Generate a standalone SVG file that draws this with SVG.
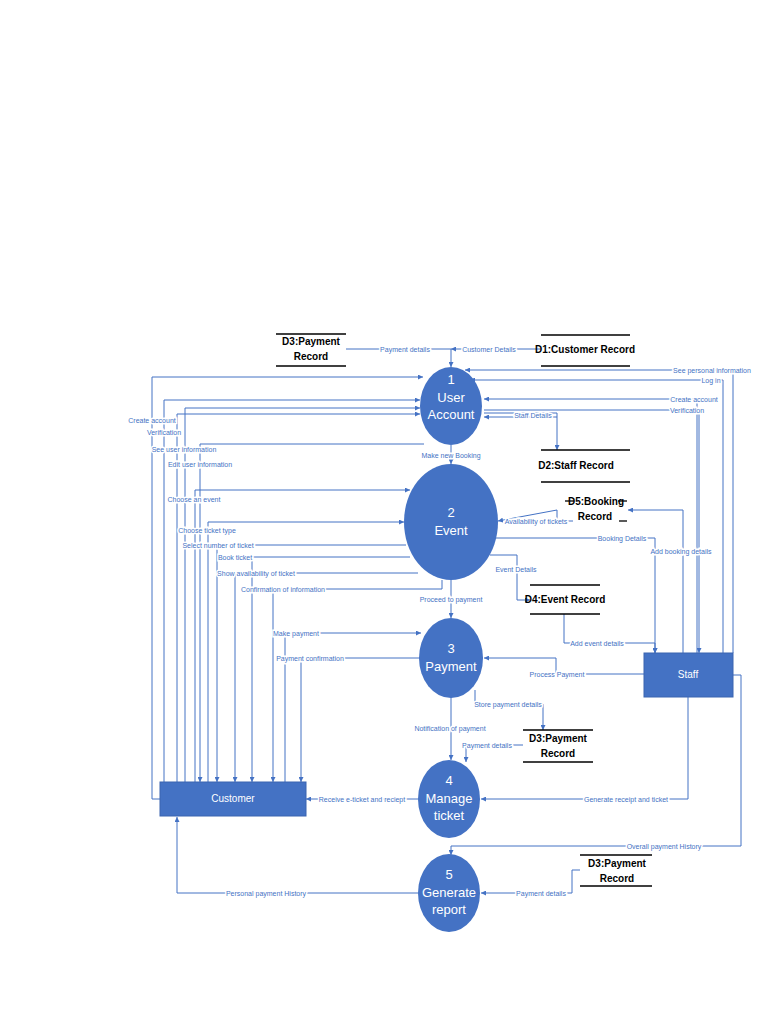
<svg xmlns="http://www.w3.org/2000/svg" width="768" height="1024" viewBox="0 0 768 1024">
<defs>
<marker id="a" viewBox="0 0 6 6" refX="6" refY="3" markerWidth="5" markerHeight="5" orient="auto"><path d="M0,0L6,3L0,6z" fill="#4472C4"/></marker>
<style>
.p{fill:#4472C4}
.pt{fill:#fff;font-family:"Liberation Sans",Arial,sans-serif;font-size:13px;text-anchor:middle}
.c path,.c polyline,.c line{fill:none;stroke:#4472C4;stroke-width:1;marker-end:url(#a)}
.l{fill:#4472C4;font-family:"Liberation Sans",Arial,sans-serif;font-size:7px;text-anchor:middle;stroke:#fff;stroke-width:3;paint-order:stroke}
.s line{stroke:#000;stroke-width:1.3}
.st{fill:#000;font-family:"Liberation Sans",Arial,sans-serif;font-size:10px;font-weight:bold;text-anchor:middle}
</style>
</defs>
<rect width="768" height="1024" fill="#fff"/>
<g class="c">
<polyline points="346,349 451,349 451,367"/>
<polyline points="541,349 451,349"/>
<polyline points="160,799 152,799 152,377 423,377"/>
<polyline points="164,782 164,400 420,400"/>
<polyline points="185,782 185,408 420,408"/>
<polyline points="177,782 177,414 420,414"/>
<polyline points="424,444 200,444 200,782"/>
<polyline points="195,782 195,490 410,490"/>
<polyline points="208,782 208,522 404,522"/>
<polyline points="406,545 217,545 217,782"/>
<polyline points="410,557 252,557 252,782"/>
<polyline points="418,573 235,573 235,782"/>
<polyline points="442,580 442,589 273,589 273,782"/>
<polyline points="285,782 285,633 421,633"/>
<polyline points="420,658 301,658 301,782"/>
<polyline points="733,653 733,370 465,370"/>
<polyline points="723,653 723,380 470,380"/>
<polyline points="697,653 697,399 484,399"/>
<polyline points="484,410 699,410 699,653"/>
<polyline points="484,413 557,413 557,450"/>
<line x1="557" y1="417" x2="484" y2="417"/>
<polyline points="451,445 451,464"/>
<polyline points="573,521 557,521 557,510 498,521"/>
<polyline points="496,538 655,538 655,653"/>
<polyline points="683,653 683,510 628,510"/>
<polyline points="490,555 517,555 517,600 530,600"/>
<polyline points="564,614 564,643 655,643 655,653"/>
<polyline points="451,580 451,618"/>
<polyline points="644,674 556,674 556,658 484,658"/>
<polyline points="475,690 475,704 543,704 543,730"/>
<polyline points="451,697 451,760"/>
<polyline points="523,745 466,745 466,762"/>
<polyline points="418,799 306,799"/>
<polyline points="688,697 688,799 481,799"/>
<polyline points="733,675 741,675 741,846 451,846 451,855"/>
<polyline points="580,870 572,870 572,893 481,893"/>
<polyline points="418,893 177,893 177,817"/>
</g>
<g class="lbl">
<text class="l" x="405" y="352">Payment details</text>
<text class="l" x="489" y="352">Customer Details</text>
<text class="l" x="152" y="423">Create account</text>
<text class="l" x="164" y="435">Verification</text>
<text class="l" x="184" y="452">See user information</text>
<text class="l" x="200" y="467">Edit user information</text>
<text class="l" x="194" y="502">Choose an event</text>
<text class="l" x="207" y="533">Choose ticket type</text>
<text class="l" x="218" y="548">Select number of ticket</text>
<text class="l" x="235" y="560">Book ticket</text>
<text class="l" x="256" y="576">Show availability of ticket</text>
<text class="l" x="283" y="592">Confirmation of information</text>
<text class="l" x="296" y="636">Make payment</text>
<text class="l" x="310" y="661">Payment confirmation</text>
<text class="l" x="451" y="458">Make new Booking</text>
<text class="l" x="451" y="602">Proceed to payment</text>
<text class="l" x="712" y="373">See personal information</text>
<text class="l" x="711" y="383">Log in</text>
<text class="l" x="694" y="402">Create account</text>
<text class="l" x="687" y="413">Verification</text>
<text class="l" x="533" y="418">Staff Details</text>
<text class="l" x="536" y="524">Availability of tickets</text>
<text class="l" x="622" y="541">Booking Details</text>
<text class="l" x="681" y="554">Add booking details</text>
<text class="l" x="516" y="572">Event Details</text>
<text class="l" x="597" y="646">Add event details</text>
<text class="l" x="557" y="677">Process Payment</text>
<text class="l" x="508" y="707">Store payment details</text>
<text class="l" x="450" y="731">Notification of payment</text>
<text class="l" x="487" y="748">Payment details</text>
<text class="l" x="362" y="802">Receive e-ticket and reciept</text>
<text class="l" x="626" y="802">Generate receipt and ticket</text>
<text class="l" x="664" y="849">Overall payment History</text>
<text class="l" x="541" y="896">Payment details</text>
<text class="l" x="266" y="896">Personal payment History</text>
</g>
<g id="n1"><ellipse class="p" cx="451" cy="406" rx="31" ry="39"/><text class="pt" x="451" y="384">1</text><text class="pt" x="451" y="402">User</text><text class="pt" x="451" y="419">Account</text></g>
<g id="n2"><ellipse class="p" cx="451" cy="522" rx="47" ry="58"/><text class="pt" x="451" y="517">2</text><text class="pt" x="451" y="535">Event</text></g>
<g id="n3"><ellipse class="p" cx="451" cy="658" rx="32" ry="40"/><text class="pt" x="451" y="653">3</text><text class="pt" x="451" y="671">Payment</text></g>
<g id="n4"><ellipse class="p" cx="449" cy="799" rx="31" ry="39"/><text class="pt" x="449" y="785">4</text><text class="pt" x="449" y="803">Manage</text><text class="pt" x="449" y="820">ticket</text></g>
<g id="n5"><ellipse class="p" cx="449" cy="893" rx="31" ry="39"/><text class="pt" x="449" y="879">5</text><text class="pt" x="449" y="897">Generate</text><text class="pt" x="449" y="914">report</text></g>
<g id="customer"><rect class="p" x="160" y="782" width="146" height="34" stroke="#3a64b0"/><text class="pt" x="233" y="802" style="font-size:10px">Customer</text></g>
<g id="staff"><rect class="p" x="644" y="653" width="89" height="44" stroke="#3a64b0"/><text class="pt" x="688" y="678" style="font-size:10px">Staff</text></g>
<g id="d3a" class="s"><line x1="276" y1="334" x2="346" y2="334"/><line x1="276" y1="366" x2="346" y2="366"/><text class="st" x="311" y="345">D3:Payment</text><text class="st" x="311" y="360">Record</text></g>
<g id="d1" class="s"><line x1="541" y1="335" x2="630" y2="335"/><line x1="541" y1="366" x2="630" y2="366"/><text class="st" x="585" y="353">D1:Customer Record</text></g>
<g id="d2" class="s"><line x1="541" y1="450" x2="630" y2="450"/><line x1="541" y1="482" x2="630" y2="482"/><text class="st" x="576" y="469">D2:Staff Record</text></g>
<g id="d5" class="s"><line x1="565" y1="501" x2="574" y2="501"/><line x1="618" y1="501" x2="627" y2="501"/><line x1="619" y1="521" x2="627" y2="521"/><text class="st" x="596" y="505">D5:Booking</text><text class="st" x="595" y="520">Record</text></g>
<g id="d4" class="s"><line x1="530" y1="585" x2="600" y2="585"/><line x1="530" y1="614" x2="600" y2="614"/><text class="st" x="565" y="603">D4:Event Record</text></g>
<g id="d3b" class="s"><line x1="523" y1="730" x2="593" y2="730"/><line x1="523" y1="762" x2="593" y2="762"/><text class="st" x="558" y="742">D3:Payment</text><text class="st" x="558" y="757">Record</text></g>
<g id="d3c" class="s"><line x1="580" y1="855" x2="652" y2="855"/><line x1="580" y1="886" x2="652" y2="886"/><text class="st" x="617" y="867">D3:Payment</text><text class="st" x="617" y="882">Record</text></g>
</svg>
